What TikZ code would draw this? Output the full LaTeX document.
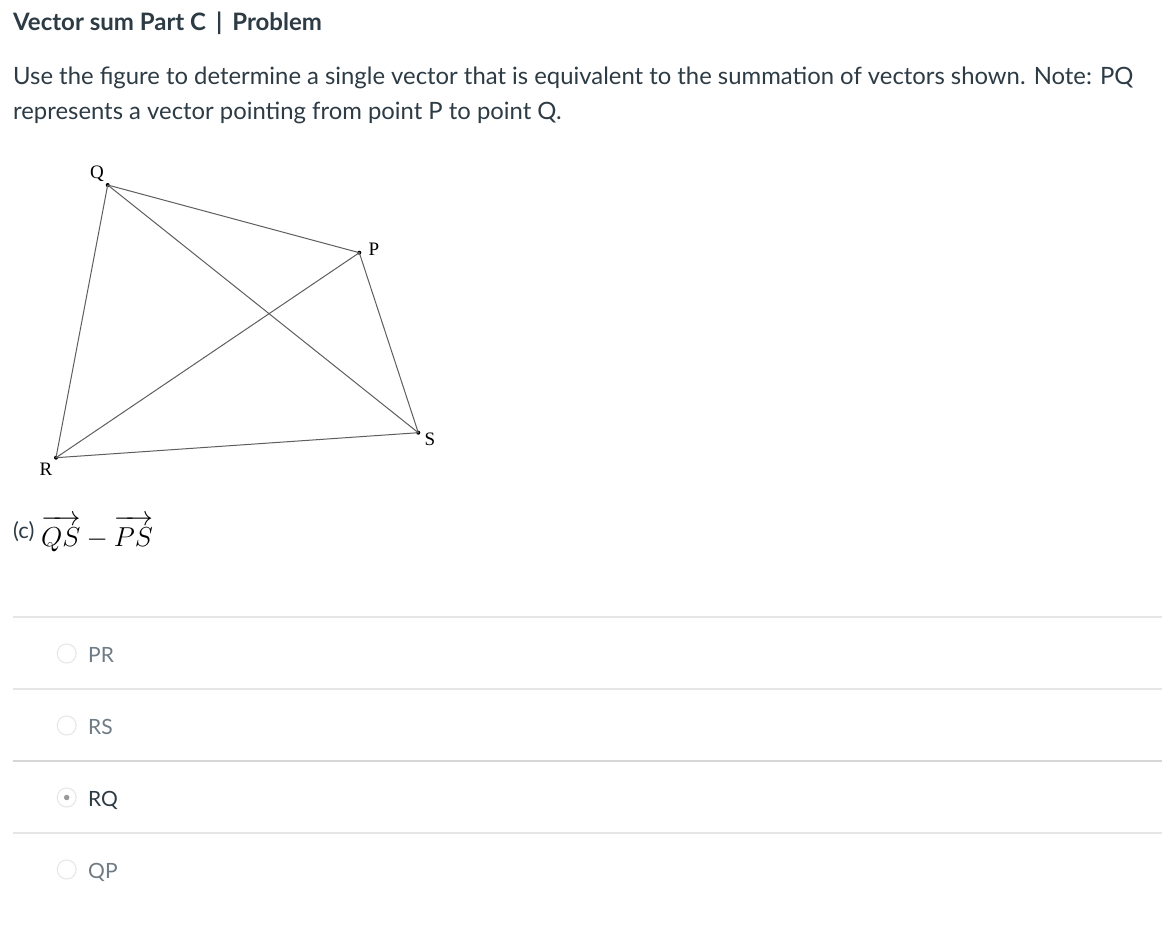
\documentclass[tikz,border=0pt]{standalone}
\usepackage{fontspec}
\setmainfont{Lato}
\newfontfamily\labelfont{Liberation Serif}
\definecolor{ink}{HTML}{2D3B45}
\definecolor{muted}{HTML}{6F7B85}
\definecolor{edge}{HTML}{5E5E5E}
\definecolor{rule}{HTML}{E6E6E6}
\definecolor{ruledark}{HTML}{D6D6D6}
\definecolor{radio}{HTML}{E6E6E6}
\tikzset{
  txt/.style={inner sep=0pt, anchor=base west, text=ink},
  pt/.style={circle, fill=black, inner sep=0pt, minimum size=4pt},
  ptlabel/.style={inner sep=0pt, font=\labelfont\fontsize{19}{19}\selectfont, text=black},
  seg/.style={draw=edge, line width=1pt},
  sep/.style={draw=rule, line width=1.5pt},
  radiobtn/.style={circle, draw=radio, line width=1pt, minimum size=19pt, inner sep=0pt},
  opt/.style={inner sep=0pt, anchor=base west, font=\fontsize{21}{25}\selectfont, text=muted},
}
\begin{document}
\begin{tikzpicture}[x=1pt,y=-1pt]
\useasboundingbox[fill=white] (0,0) rectangle (1162,924);
% title and statement
\node[txt, font=\bfseries\fontsize{24}{28}\selectfont] (title) at (13,30) {Vector sum Part C\hspace{10pt}|\hspace{10pt}Problem};
\node[txt, font=\fontsize{23.85}{28}\selectfont] (line1) at (13,84) {Use the figure to determine a single vector that is equivalent to the summation of vectors shown. Note: PQ};
\node[txt, font=\fontsize{23.85}{28}\selectfont] (line2) at (13,119) {represents a vector pointing from point P to point Q.};
% figure
\node[pt] (Q) at (107.7,185) {};
\node[pt] (P) at (359.3,252.7) {};
\node[pt] (S) at (418.3,432.7) {};
\node[pt] (R) at (56,457.7) {};
\draw[seg] (Q.center) -- (P.center) -- (S.center) -- (R.center) -- (Q.center);
\draw[seg] (Q.center) -- (S.center);
\draw[seg] (R.center) -- (P.center);
\node[ptlabel] (lQ) at (97,174) {Q};
\node[ptlabel] (lP) at (374,249.5) {P};
\node[ptlabel] (lS) at (430,439) {S};
\node[ptlabel] (lR) at (46,469.5) {R};
% question
\node[txt, font=\fontsize{22}{26}\selectfont] (c) at (13,538) {(c)};
\node[inner sep=0pt, anchor=base west] (expr) at (41,546) {\fontsize{25}{30}\selectfont\scalebox{1.1}{$\overrightarrow{\rule{0pt}{0.8em}QS}-\overrightarrow{\rule{0pt}{0.8em}PS}$}};
% separators
\coordinate (s1a) at (13,617); \coordinate (s1b) at (1162,617);
\coordinate (s2a) at (13,689); \coordinate (s2b) at (1162,689);
\coordinate (s3a) at (13,761); \coordinate (s3b) at (1162,761);
\coordinate (s4a) at (13,833); \coordinate (s4b) at (1162,833);
\draw[sep] (s1a) -- (s1b);
\draw[sep] (s2a) -- (s2b);
\draw[sep, draw=ruledark] (s3a) -- (s3b);
\draw[sep] (s4a) -- (s4b);
% options
\node[radiobtn] (r1) at (66.7,653.5) {};
\node[radiobtn] (r2) at (66.7,725.5) {};
\node[radiobtn] (r3) at (66.7,797.5) {};
\node[radiobtn] (r4) at (66.7,869.5) {};
\node[circle, fill=black!40, inner sep=0pt, minimum size=5.5pt] (dot) at (r3.center) {};
\node[opt] (o1) at (88,662) {PR};
\node[opt] (o2) at (88,734) {RS};
\node[opt, text=ink] (o3) at (88,806) {RQ};
\node[opt] (o4) at (88,878) {QP};
\end{tikzpicture}
\end{document}
